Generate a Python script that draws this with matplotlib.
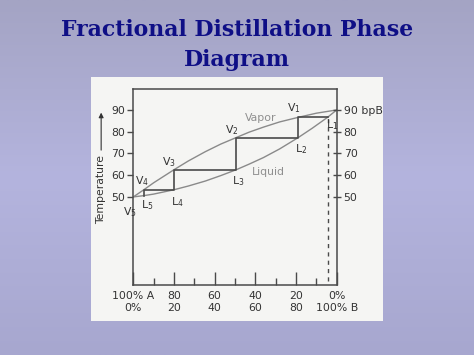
import numpy as np
import matplotlib
matplotlib.use('Agg')
import matplotlib.pyplot as plt
from matplotlib.colors import LinearSegmentedColormap
from matplotlib.patches import Rectangle

# curvas de vapor y liquido (% de B, temperatura)
vap_b = [0, 5.2, 10, 20, 27, 35.4, 43, 50.6, 57, 64, 72, 81.1, 90, 100]
vap_t = [50, 53.3, 56.5, 62.5, 66.5, 70.8, 74.3, 77.3, 79.8, 82.1, 84.5, 86.6, 88.5, 90]
liq_b = [0, 5.2, 10, 20, 27, 35.4, 43, 50.6, 57, 64, 72, 81.1, 88, 95.5, 100]
liq_t = [50, 50.6, 51.3, 53.3, 55.0, 57.3, 59.8, 62.5, 65.1, 68.1, 72.1, 77.3, 81.6, 86.6, 90]

# escalera de destilacion
step_b = [95.5, 81.1, 81.1, 50.6, 50.6, 20, 20, 5.2, 5.2]
step_t = [86.6, 86.6, 77.3, 77.3, 62.5, 62.5, 53.3, 53.3, 50.6]

start_b = 95.5
start_t = 86.6

y_ticks = [50, 60, 70, 80, 90]
left_labels = ['50', '60', '70', '80', '90']
right_labels = ['50', '60', '70', '80', '90 bpB']
x_major = [0, 20, 40, 60, 80, 100]
x_labels = ['100% A\n0%', '80\n20', '60\n40', '40\n60', '20\n80', '0%\n100% B']
x_minor = [10, 30, 50, 70, 90]

point_names = ['V$_1$', 'L$_1$', 'V$_2$', 'L$_2$', 'V$_3$', 'L$_3$',
               'V$_4$', 'L$_4$', 'L$_5$', 'V$_5$']

plt.rcParams['mathtext.fontset'] = 'dejavusans'
fig = plt.figure(figsize=(4.74, 3.55), dpi=100)

# fondo degradado
bg = fig.add_axes([0, 0, 1, 1], zorder=-10)
cmap = LinearSegmentedColormap.from_list('bg', ['#a7a7cf', '#b4b4de', '#a4a4c4'])
grad = np.linspace(0, 1, 256).reshape(-1, 1)
bg.imshow(grad, aspect='auto', cmap=cmap, origin='lower', extent=[0, 1, 0, 1])
bg.set_xlim(0, 1)
bg.set_ylim(0, 1)
bg.axis('off')

# panel blanco
fig.patches.append(Rectangle((0.192, 0.096), 0.616, 0.687, transform=fig.transFigure,
                             facecolor='#f5f5f3', edgecolor='none', zorder=-5))

title_color = '#0f0f86'
fig.text(0.5, 0.915, 'Fractional Distillation Phase', ha='center', va='center',
         fontsize=15.8, fontweight='bold', family='DejaVu Serif', color=title_color)
fig.text(0.5, 0.83, 'Diagram', ha='center', va='center',
         fontsize=15.8, fontweight='bold', family='DejaVu Serif', color=title_color)

ax = fig.add_axes([0.2812, 0.1972, 0.4291, 0.5513])
ax.set_facecolor('none')
gray = '#8a8a8a'
dark = '#4a4a4a'

ax.plot(vap_b, vap_t, color=gray, lw=1)
ax.plot(liq_b, liq_t, color=gray, lw=1)
ax.plot(step_b, step_t, color=dark, lw=1.2)
ax.plot([start_b, start_b], [0, start_t], color=dark, lw=1, ls=(0, (3, 3)))

ax.set_xlim(0, 100)
ax.set_ylim(9.5, 99.5)

for s in ax.spines.values():
    s.set_color(dark)
    s.set_linewidth(1.1)

ax.set_xticks(x_major)
ax.set_xticklabels(x_labels, fontsize=7.8, color='#333333', linespacing=1.35)
ax.set_xticks(x_minor, minor=True)
ax.tick_params(axis='x', which='major', direction='in', length=9.5, width=1,
               color=dark, pad=4)
ax.tick_params(axis='x', which='minor', direction='in', length=5, width=1, color=dark)

ax.set_yticks(y_ticks)
ax.set_yticklabels(left_labels, fontsize=7.8, color='#333333')
ax.tick_params(axis='y', direction='out', length=4, width=1, color=dark, pad=2)

ax2 = ax.twinx()
ax2.set_ylim(ax.get_ylim())
ax2.set_yticks(y_ticks)
ax2.set_yticklabels(right_labels, fontsize=7.8, color='#333333')
ax2.tick_params(axis='y', direction='inout', length=6, width=1, color=dark, pad=2)
for s in ax2.spines.values():
    s.set_visible(False)

# etiquetas de puntos
label_pos = [(79, 91.0), (97.6, 83.2), (48.5, 80.9), (82.4, 72.0), (17.7, 65.8),
             (51.8, 57.4), (4.3, 57.4), (21.5, 47.8), (6.7, 46.3), (-1.8, 43.2)]
for name, (px, py) in zip(point_names, label_pos):
    ax.text(px, py, name, fontsize=7.8, color='#333333', ha='center', va='center',
            clip_on=False)

ax.text(62.7, 86.5, 'Vapor', fontsize=7.8, color='#8f8f8f', ha='center', va='center')
ax.text(66.5, 61.6, 'Liquid', fontsize=7.8, color='#8f8f8f', ha='center', va='center')

# eje de temperatura
ax.text(-0.158, 0.49, 'Temperature', transform=ax.transAxes, rotation=90,
        fontsize=7.8, color='#333333', ha='center', va='center')
ax.annotate('', xy=(-0.158, 0.895), xytext=(-0.158, 0.675), xycoords='axes fraction',
            arrowprops=dict(arrowstyle='-|>', color='#333333', lw=0.8,
                            mutation_scale=7))

fig.savefig('out.png', dpi=100)
